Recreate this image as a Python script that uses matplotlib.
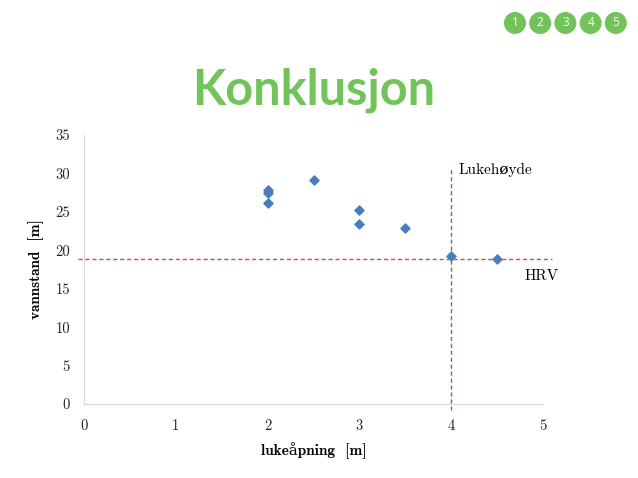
import numpy as np
import matplotlib.pyplot as plt
from matplotlib.patches import Ellipse

# data
lukeapning = [2, 2, 2, 2.5, 3, 3, 3.5, 4, 4.5]
vannstand = [27.9, 27.4, 26.1, 29.1, 25.2, 23.4, 22.9, 19.2, 18.9]
hrv = 18.9
lukehoyde = 4
xticks = [0, 1, 2, 3, 4, 5]
yticks = [0, 5, 10, 15, 20, 25, 30, 35]
pages = ['1', '2', '3', '4', '5']

serif = ['cmr10', 'DejaVu Serif']
bold = ['cmb10', 'cmr10', 'DejaVu Serif']
green = '#72c45a'

fig = plt.figure(figsize=(6.38, 4.78), dpi=100)

# page dots in the top right corner
for i, p in enumerate(pages):
    cx = (515 + i * 25.2) / 638
    cy = 1 - 23 / 478
    fig.patches.append(Ellipse((cx, cy), 22 / 638, 22 / 478,
                               transform=fig.transFigure,
                               facecolor=green, edgecolor='none'))
    fig.text(cx, cy, p, ha='center', va='center', color='white',
             fontsize=8.5, family='Open Sans')

fig.text(0.492, 1 - 90 / 478, 'Konklusjon', ha='center', va='center',
         color=green, fontsize=35, fontweight='bold', family='Lato')

ax = fig.add_axes([84 / 638, 74 / 478, 459 / 638, 269 / 478])
ax.scatter(lukeapning, vannstand, marker='D', s=22, color='#4a7ebb', zorder=3)

ax.axhline(hrv, xmin=-0.013, xmax=1.02, color='#c0504d', lw=1,
           linestyle=(0, (3, 2)), clip_on=False)
ax.plot([lukehoyde, lukehoyde], [-0.8, 30.7], color='#2e9e2e', lw=1,
        linestyle=(0, (3, 2)), clip_on=False)
ax.text(4.08, 30.4, 'Lukehøyde', family=serif, fontsize=11, va='center')
ax.text(4.8, 16.6, 'HRV', family=serif, fontsize=11, va='center')

ax.set_xlim(0, 5)
ax.set_ylim(0, 35)
ax.set_xticks(xticks)
ax.set_yticks(yticks)
ax.tick_params(length=0, labelsize=10.5)
ax.tick_params(axis='x', pad=11)
ax.tick_params(axis='y', pad=10)
for lab in ax.get_xticklabels() + ax.get_yticklabels():
    lab.set_family(serif)
    lab.set_color('#222222')

for s in ['top', 'right']:
    ax.spines[s].set_visible(False)
for s in ['left', 'bottom']:
    ax.spines[s].set_color('#d9d9d9')

ax.set_xlabel('lukeåpning  [m]', family=bold, fontsize=11, labelpad=7)
ax.set_ylabel('vannstand  [m]', family=bold, fontsize=11, labelpad=8)

fig.savefig('out.png', dpi=100)
